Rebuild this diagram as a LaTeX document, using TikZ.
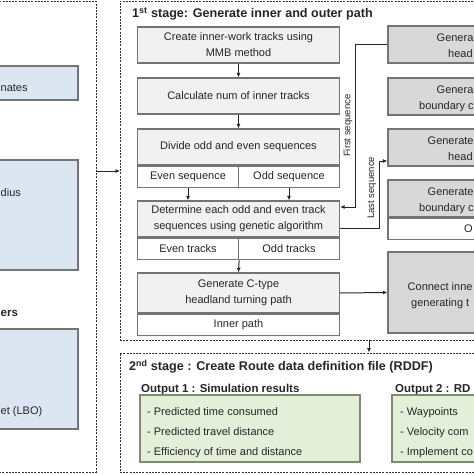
\documentclass[tikz,border=0pt]{standalone}
\usepackage{fontspec}
\setmainfont{Liberation Sans}
\usetikzlibrary{arrows.meta,positioning,calc}

\definecolor{boxline}{HTML}{747474}
\definecolor{lightbox}{HTML}{F1F1F1}
\definecolor{darkbox}{HTML}{D8D8D8}
\definecolor{bluebox}{HTML}{DCE6F2}
\definecolor{greenbox}{HTML}{E3EFD9}
\definecolor{greenline}{HTML}{7D8B6F}
\definecolor{txt}{HTML}{262626}

\begin{document}
\begin{tikzpicture}[x=1pt, y=-1pt,
  every node/.style={text=txt},
  frame/.style={draw=black!80, dash pattern=on 2pt off 1.2pt, line width=0.8pt, inner sep=0pt},
  stepbox/.style={draw=boxline, fill=lightbox, line width=1.2pt, align=center,
    minimum width=202, minimum height=36, font=\fontsize{11}{16}\selectfont},
  subbox/.style={draw=boxline, fill=white, line width=1.2pt, minimum width=101,
    minimum height=21.5, font=\fontsize{11}{13}\selectfont},
  outerbox/.style={draw=boxline, fill=darkbox, line width=1.2pt, minimum width=180, minimum height=37},
  inbox/.style={draw=boxline, fill=bluebox, line width=1.2pt, minimum width=160},
  resbox/.style={draw=greenline, fill=greenbox, line width=1.2pt, minimum width=220, minimum height=67},
  frag/.style={anchor=base west, inner sep=0pt, font=\fontsize{11}{13}\selectfont},
  list/.style={anchor=west, inner sep=0pt, align=left, font=\fontsize{11}{20}\selectfont},
  seqlabel/.style={rotate=90, anchor=south, inner sep=2.5pt, font=\fontsize{9.5}{11}\selectfont},
  title/.style={anchor=base west, inner sep=0pt, font=\bfseries\fontsize{12.6}{14}\selectfont},
  subtitle/.style={anchor=base west, inner sep=0pt, font=\bfseries\fontsize{11.5}{13}\selectfont},
  arr/.style={draw=txt, line width=1pt, -{Latex[length=4.5pt,width=4pt]}}
]
\path[use as bounding box, fill=white] (0,0) rectangle (474,474);
\clip (0,0) rectangle (474,474);

% input panel (left)
\node[frame, minimum width=196, minimum height=471] (leftp) at (-2,236.5) {};
\node[inbox, minimum height=34] (coord) at (-2,83) {};
\node[frag] (coordtx) at (0.5,91) {nates};
\node[inbox, minimum height=110] (radius) at (-2,215) {};
\node[frag] (radiustx) at (0.5,196) {dius};
\node[subtitle] (paramtx) at (0.5,316) {ers};
\node[inbox, minimum height=100] (lbo) at (-2,379) {};
\node[frag] (lbotx) at (0.5,414) {et (LBO)};

% 1st stage
\node[frame, minimum width=500, minimum height=339] (stageA) at (370,170.5) {};
\node[title] (titleA) at (132,17.5) {1\textsuperscript{st} stage: Generate inner and outer path};

\node[stepbox] (tracks) at (238.5,45) {Create inner-work tracks using\\MMB method};
\node[stepbox] (count) at (238.5,96) {Calculate num of inner tracks};
\node[stepbox] (divide) at (238.5,147) {Divide odd and even sequences};
\node[subbox, anchor=north west] (evenseq) at (divide.south west) {Even sequence};
\node[subbox, anchor=north east] (oddseq) at (divide.south east) {Odd sequence};
\node[stepbox] (genetic) at (238.5,219) {Determine each odd and even track\\sequences using genetic algorithm};
\node[subbox, anchor=north west] (eventrk) at (genetic.south west) {Even tracks};
\node[subbox, anchor=north east] (oddtrk) at (genetic.south east) {Odd tracks};
\node[stepbox, minimum height=40] (ctype) at (238.5,293) {Generate C-type\\headland turning path};
\node[subbox, minimum width=202, anchor=north] (innerp) at (ctype.south) {Inner path};

% outer path boxes (right)
\node[outerbox] (hdA) at (478,44.5) {};
\node[frag] (hdAa) at (436.5,41) {Genera};
\node[frag] (hdAb) at (448,57) {head};
\node[outerbox] (bdA) at (478,96.5) {};
\node[frag] (bdAa) at (436.5,93) {Genera};
\node[frag] (bdAb) at (419,109) {boundary c};
\node[outerbox] (hdB) at (478,147.5) {};
\node[frag] (hdBa) at (427.5,144) {Generate};
\node[frag] (hdBb) at (448,160) {head};
\node[outerbox] (bdB) at (478,198.5) {};
\node[frag] (bdBa) at (427.5,195) {Generate};
\node[frag] (bdBb) at (419,211) {boundary c};
\node[subbox, minimum width=180, anchor=north west] (outp) at (bdB.south west) {};
\node[frag] (outptx) at (464,232) {O};
\node[outerbox, minimum height=81] (connect) at (478,292.5) {};
\node[frag] (connecta) at (407.5,290) {Connect inne};
\node[frag] (connectb) at (411,306) {generating t};

% 2nd stage
\node[frame, minimum width=500, minimum height=119] (stageB) at (370,412.5) {};
\node[title] (titleB) at (129,370.5) {2\textsuperscript{nd} stage : Create Route data definition file (RDDF)};
\node[subtitle] (outA) at (141,392) {Output 1 : Simulation results};
\node[resbox] (resA) at (250,428.5) {};
\node[list] (resAtx) at (147,433) {- Predicted time consumed\\- Predicted travel distance\\- Efficiency of time and distance};
\node[subtitle] (outB) at (395,392) {Output 2 : RD};
\node[resbox] (resB) at (502,428.5) {};
\node[list] (resBtx) at (400,433) {- Waypoints\\- Velocity com\\- Implement co};

% connectors
\coordinate (inlet) at (120,171);
\draw[arr] (leftp.east |- inlet) -- (inlet);
\draw[arr] (tracks) -- (count);
\draw[arr] (count) -- (divide);
\draw[arr] (evenseq.south) -- (evenseq.south |- genetic.north);
\draw[arr] (oddseq.south) -- (oddseq.south |- genetic.north);
\draw[arr] (eventrk.south east) -- (ctype.north);
\draw[arr] (ctype.east) -- (connect.west);

\coordinate (firstin) at ([yshift=12pt]genetic.east);
\draw[arr] (hdA.west) -- ++(-32,0) |- node[seqlabel, pos=0.25] {First sequence} (firstin);
\coordinate (lastout) at ([yshift=-9pt]genetic.east);
\coordinate (lastin) at ([yshift=-13.5pt]hdB.west);
\draw[arr] (lastout) -- ++(39,0) |- node[seqlabel, pos=0.3] {Last sequence} (lastin);

\coordinate (link) at (369,0);
\draw[arr] (stageA.south -| link) -- (stageB.north -| link);

\end{tikzpicture}
\end{document}
